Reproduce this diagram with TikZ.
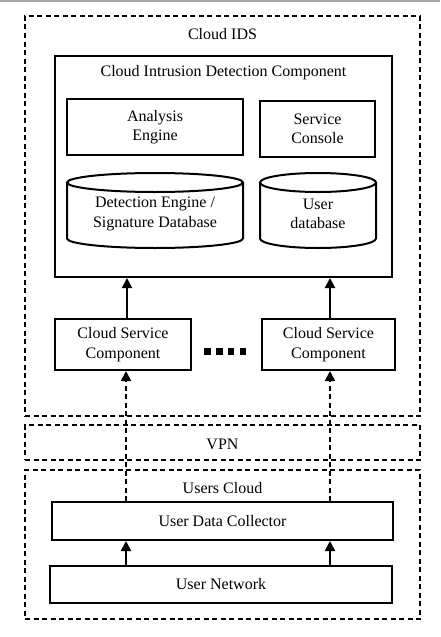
\documentclass[tikz,border=0pt]{standalone}
\usepackage{fontspec}
\setmainfont{Liberation Serif}
\usetikzlibrary{arrows.meta}
\begin{document}
\begin{tikzpicture}[x=1pt,y=-1pt,
  every node/.style={font=\fontsize{16}{19.5}\selectfont, align=center, inner sep=0pt},
  solidbox/.style={draw, line width=2pt},
  dashbox/.style={draw, line width=1.7pt, dash pattern=on 5pt off 3.5pt},
  solidarrow/.style={line width=2pt, -{Triangle[length=10pt,width=10pt]}},
  dasharrow/.style={line width=1.7pt, dash pattern=on 5pt off 3.5pt, -{Triangle[length=10pt,width=10pt]}},
  lbl/.style={}]
\useasboundingbox (0,0) rectangle (440,637);
\fill[gray!70] (0,0) rectangle (440,2.2);
% outer dashed regions
\node[dashbox, minimum width=395pt, minimum height=400pt] (ids) at (222.5,216) {};
\node[lbl] (idslbl) at (222.5,34) {Cloud IDS};
\node[dashbox, minimum width=395pt, minimum height=35pt] (vpn) at (222.5,442.5) {};
\node[lbl] (vpnlbl) at (222.5,444) {VPN};
\node[dashbox, minimum width=395pt, minimum height=149pt] (uc) at (222.5,544.5) {};
\node[lbl] (uclbl) at (222.5,488) {Users Cloud};
% CIDC
\node[solidbox, minimum width=337pt, minimum height=221pt] (cidc) at (223.5,166.5) {};
\node[lbl] (cidclbl) at (223.5,73) {Cloud Intrusion Detection Component};
\node[solidbox, minimum width=176pt, minimum height=56pt] (ae) at (155,127) {Analysis\\Engine};
\node[solidbox, minimum width=115pt, minimum height=56pt] (sc) at (317.5,129) {Service\\Console};
% cylinders
\node[minimum width=176pt, minimum height=75pt] (de) at (155,212) {};
\node[lbl] (delbl) at (155,214) {Detection Engine /\\Signature Database};
\draw[line width=2pt] (155,182.5) ellipse [x radius=88pt, y radius=9.5pt];
\draw[line width=2pt] (67,182.5) -- (67,238.5) arc[start angle=180, end angle=360, x radius=88pt, y radius=9.5pt] -- (243,182.5);
\node[minimum width=116pt, minimum height=75pt] (ud) at (318,212) {};
\node[lbl] (udlbl) at (318,214) {User\\database};
\draw[line width=2pt] (318,182.5) ellipse [x radius=58pt, y radius=9.5pt];
\draw[line width=2pt] (260,182.5) -- (260,238.5) arc[start angle=180, end angle=360, x radius=58pt, y radius=9.5pt] -- (376,182.5);
% cloud service components
\node[solidbox, minimum width=136pt, minimum height=51pt] (csc1) at (123,344.5) {Cloud Service\\Component};
\node[solidbox, minimum width=133pt, minimum height=51pt] (csc2) at (328.5,344.5) {Cloud Service\\Component};
\foreach \cx in {207.5,219.3,231.2,243.1} \fill (\cx-3.2,348) rectangle (\cx+3.2,355);
% users cloud
\node[solidbox, minimum width=341pt, minimum height=38pt] (udc) at (222.5,521) {User Data Collector};
\node[solidbox, minimum width=342pt, minimum height=37pt] (un) at (221,584.5) {User Network};
% arrows
\draw[solidarrow] (csc1.north -| 127,0) -- (cidc.south -| 127,0);
\draw[solidarrow] (csc2.north -| 330,0) -- (cidc.south -| 330,0);
\draw[dasharrow] (udc.north -| 126,0) -- (csc1.south -| 126,0);
\draw[dasharrow] (udc.north -| 330,0) -- (csc2.south -| 330,0);
\draw[solidarrow] (un.north -| 126,0) -- (udc.south -| 126,0);
\draw[solidarrow] (un.north -| 330,0) -- (udc.south -| 330,0);
\end{tikzpicture}
\end{document}
